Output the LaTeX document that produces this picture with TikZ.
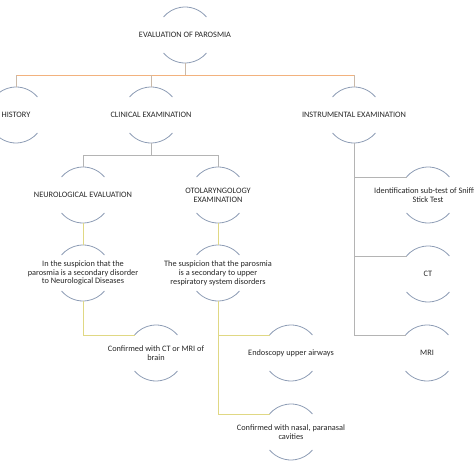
\documentclass[tikz,border=0pt]{standalone}
\usepackage{fontspec}
\setmainfont{Carlito}
\definecolor{arcgray}{HTML}{8E9DB5}
\definecolor{barorange}{HTML}{F2B27E}
\definecolor{droptan}{HTML}{C9B9A9}
\definecolor{linegray}{HTML}{B4B4B4}
\definecolor{lineyellow}{HTML}{E0D884}
\tikzset{
  bub/.style={circle,minimum size=56pt,inner sep=0pt,outer sep=0pt},
  lbl/.style={align=center,font=\fontsize{8.3}{8.8}\selectfont,text=black!85},
  arcline/.style={arcgray,line width=0.8pt},
}
\begin{document}
\begin{tikzpicture}[x=1pt,y=1pt]
    \useasboundingbox (0,0) rectangle (474,474);
    \node[bub,label={[lbl]center:EVALUATION OF PAROSMIA}] (root) at (185,439) {};
    \node[bub,label={[lbl]center:HISTORY}] (hist) at (16,359) {};
    \node[bub,label={[lbl]center:CLINICAL EXAMINATION}] (clin) at (151,359) {};
    \node[bub,label={[lbl]center:INSTRUMENTAL EXAMINATION}] (inst) at (354,359) {};
    \node[bub,label={[lbl]center:NEUROLOGICAL EVALUATION}] (neuro) at (83,279) {};
    \node[bub,label={[lbl]center:{OTOLARYNGOLOGY\\EXAMINATION}}] (oto) at (218,279) {};
    \node[bub,label={[lbl]center:{Identification sub-test of Sniffin'\\Stick Test}}] (ident) at (428,279) {};
    \node[bub,label={[lbl]center:{In the suspicion that the\\parosmia is a secondary disorder\\to Neurological Diseases}}] (neurosusp) at (83,201) {};
    \node[bub,label={[lbl]center:{The suspicion that the parosmia\\is a secondary to upper\\respiratory system disorders}}] (otosusp) at (218,201) {};
    \node[bub,label={[lbl]center:CT}] (ct) at (428,200) {};
    \node[bub,label={[lbl]center:{Confirmed with CT or MRI of\\brain}}] (brain) at (156,121) {};
    \node[bub,label={[lbl]center:Endoscopy upper airways}] (endo) at (291,121) {};
    \node[bub,label={[lbl]center:MRI}] (mri) at (427,121) {};
    \node[bub,label={[lbl]center:{Confirmed with nasal, paranasal\\cavities}}] (nasal) at (291,42) {};
    \foreach \n in {root,hist,clin,inst,neuro,oto,ident,neurosusp,otosusp,ct,brain,endo,mri,nasal}{
        \draw[arcline] (\n.40) arc[start angle=40,end angle=140,radius=28pt];
        \draw[arcline] (\n.220) arc[start angle=220,end angle=320,radius=28pt];
    }
    \draw[droptan,line width=0.8pt] (root.south) -- ++(0,-12) coordinate (rbar);
    \draw[barorange,line width=0.8pt] (hist.north |- rbar) -- (inst.north |- rbar);
    \foreach \n in {hist,clin,inst}
        \draw[droptan,line width=0.8pt] (\n.north) -- (\n.north |- rbar);
    \draw[linegray,line width=0.8pt] (clin.south) -- ++(0,-12) coordinate (cbar);
    \draw[linegray,line width=0.8pt] (neuro.north |- cbar) -- (oto.north |- cbar);
    \draw[linegray,line width=0.8pt] (neuro.north) -- (neuro.north |- cbar);
    \draw[linegray,line width=0.8pt] (oto.north) -- (oto.north |- cbar);
    \draw[lineyellow,line width=0.8pt] (neuro.south) -- (neurosusp.north);
    \draw[lineyellow,line width=0.8pt] (oto.south) -- (otosusp.north);
    \draw[lineyellow,line width=0.8pt] (neurosusp.south) -- (neurosusp.south |- brain.140) -- (brain.140);
    \draw[lineyellow,line width=0.8pt] (otosusp.south) -- (otosusp.south |- nasal.140) -- (nasal.140);
    \draw[lineyellow,line width=0.8pt] (otosusp.south |- endo.140) -- (endo.140);
    \draw[linegray,line width=0.8pt] (inst.south) -- (inst.south |- mri.140) -- (mri.140);
    \draw[linegray,line width=0.8pt] (inst.south |- ident.140) -- (ident.140);
    \draw[linegray,line width=0.8pt] (inst.south |- ct.140) -- (ct.140);
\end{tikzpicture}
\end{document}
